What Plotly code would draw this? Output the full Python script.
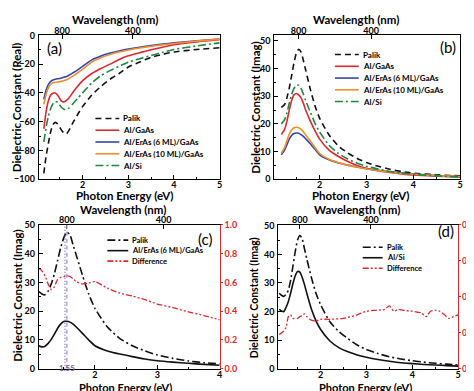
import plotly.graph_objects as go

W, H = 474, 391
FONT = "Lato"

# ---------------- Panel (a): real part ----------------
E_A = [1.15, 1.2, 1.25, 1.3, 1.35, 1.4, 1.45, 1.5, 1.55, 1.6, 1.65, 1.7, 1.8, 1.9,
       2.0, 2.2, 2.4, 2.6, 2.8, 3.0, 3.25, 3.5, 3.75, 4.0, 4.5, 5.0]
REAL_PALIK = [-96, -84, -75, -67, -62, -60.5, -61.5, -64, -66.5, -68, -68.3, -66, -60, -54.5,
              -49.5, -41.5, -35.5, -30.5, -26.5, -22, -18.5, -15.2, -13.2, -11.5, -9.8, -8.6]
REAL_GAAS = [-65, -53, -45.5, -41.5, -40.2, -40, -41.5, -44, -46, -46.2, -45, -43.5, -39, -35,
             -31.5, -26.5, -23, -20, -16.8, -14.2, -12, -10, -8.2, -6.5, -4.5, -3]
REAL_ERAS6 = [-44.5, -38, -34, -32, -31, -30.5, -30.2, -30, -29.5, -29, -28.6, -27.7, -25.8, -23.8,
              -21.5, -17, -14.3, -12.3, -10.8, -9.5, -8.2, -7.1, -6.1, -5.2, -3.7, -2.5]
REAL_ERAS10 = [-48, -41, -36.5, -34, -33, -32.6, -32.4, -32.2, -31.8, -31.3, -30.8, -30, -28, -25.8,
               -23.5, -18.5, -15.5, -13.3, -11.6, -10.2, -8.8, -7.6, -6.6, -5.6, -4.0, -2.8]
REAL_SI = [-74, -64, -56, -51, -47.5, -46, -46.5, -48.5, -50.5, -51.5, -51.5, -50.5, -47, -43.5,
           -40, -33, -28, -24.5, -21.5, -18.7, -16.2, -14, -11.8, -9.8, -7.3, -5.2]

# ---------------- Panel (b): imaginary part ----------------
E_B = [1.18, 1.25, 1.3, 1.35, 1.4, 1.45, 1.5, 1.55, 1.6, 1.65, 1.7, 1.8, 1.9, 2.0,
       2.2, 2.4, 2.6, 2.8, 3.0, 3.25, 3.5, 3.75, 4.0, 4.5, 5.0]
IMAG_PALIK = [26, 27, 29.5, 33, 37.5, 42, 45.5, 47, 46, 43, 39.5, 32.5, 26.5, 22,
              16, 12, 9.5, 7.5, 6, 4.7, 3.6, 2.8, 2.2, 1.6, 1.2]
IMAG_GAAS = [16.2, 18, 21, 25, 28.5, 30.5, 31, 30.5, 29.5, 27.5, 25, 21, 17.5, 14.5,
             10.5, 8.2, 6.4, 5, 4, 3.1, 2.4, 1.9, 1.5, 1.1, 0.8]
IMAG_ERAS6 = [8.8, 10.5, 12.5, 14.5, 15.8, 16.5, 16.7, 16.6, 16.1, 15.5, 14.6, 12.8, 10.8, 8.8,
              7, 5.9, 5.1, 4.4, 3.8, 3.2, 2.7, 2.3, 1.9, 1.3, 0.9]
IMAG_ERAS10 = [9.4, 11.5, 14, 16.3, 17.8, 18.6, 18.8, 18.6, 18, 17.2, 16, 13.8, 11.5, 9.3,
               7.2, 6, 5.1, 4.4, 3.7, 3.1, 2.6, 2.1, 1.8, 1.3, 1.0]
IMAG_SI = [20, 21.5, 24, 27.5, 30.5, 32.8, 34, 34, 32.8, 30.8, 28.5, 24.2, 20.2, 17,
           12.3, 9.3, 7.3, 5.8, 4.7, 3.7, 2.8, 2.2, 1.8, 1.2, 0.8]

# ---------------- Panel (c): Palik vs Al/ErAs (6 ML)/GaAs ----------------
E_C = [1.1, 1.15, 1.2, 1.25, 1.3, 1.35, 1.4, 1.45, 1.5, 1.55, 1.6, 1.65, 1.7, 1.8, 1.9,
       2.0, 2.2, 2.4, 2.6, 2.8, 3.0, 3.25, 3.5, 3.75, 4.0]
C_PALIK = [26.8, 26, 25.7, 27, 29.5, 33, 37.5, 42, 45.5, 47.5, 46.5, 43, 39.5, 32.5, 26,
           21, 14.5, 10.5, 8, 6.2, 4.8, 3.6, 2.7, 2.1, 1.7]
C_ERAS6 = [8.0, 7.6, 7.8, 8.8, 10.2, 12, 14, 15.5, 16.4, 16.5, 16.2, 15.5, 14.5, 12.3, 10,
           8, 6.2, 5.1, 4.2, 3.4, 2.8, 2.3, 1.9, 1.5, 1.2]
C_DIFF = [0.70, 0.68, 0.645, 0.59, 0.55, 0.57, 0.62, 0.635, 0.64, 0.647, 0.64, 0.625, 0.605, 0.59, 0.595,
          0.605, 0.56, 0.525, 0.505, 0.48, 0.45, 0.425, 0.395, 0.37, 0.34]
MARK_E = 1.55
MARK_E_SAMPLE = 1.52

# ---------------- Panel (d): Palik vs Al/Si ----------------
E_D = [1.1, 1.15, 1.2, 1.25, 1.3, 1.35, 1.4, 1.45, 1.5, 1.55, 1.6, 1.65, 1.7, 1.8, 1.9,
       2.0, 2.2, 2.4, 2.6, 2.8, 3.0, 3.25, 3.5, 3.75, 4.0, 4.25, 4.5, 4.75, 5.0]
D_PALIK = [26.4, 25.7, 25.3, 26, 27.5, 31, 36, 41, 45, 46.6, 45.5, 42, 38.5, 32, 26.5,
           22.5, 16.5, 13, 10.5, 8.3, 6.7, 5.3, 4.2, 3.4, 2.8, 2.3, 1.9, 1.6, 1.3]
D_SI = [20.8, 20.2, 20, 21.5, 23.5, 26.5, 29.8, 32.5, 34, 33.8, 32, 29.5, 26.5, 21, 16.8,
        13.8, 9.8, 7.4, 5.9, 4.8, 4.0, 3.2, 2.6, 2.1, 1.8, 1.5, 1.3, 1.1, 0.9]
E_D_DIFF = [1.1, 1.2, 1.25, 1.3, 1.35, 1.4, 1.5, 1.55, 1.6, 1.65, 1.7, 1.8, 1.9, 2.0, 2.2,
            2.5, 2.8, 3.0, 3.2, 3.4, 3.5, 3.6, 3.7, 3.8, 4.0, 4.2, 4.3, 4.4, 4.5, 4.6,
            4.7, 4.8, 4.9, 5.0]
D_DIFF = [0.19, 0.21, 0.23, 0.29, 0.30, 0.28, 0.28, 0.29, 0.295, 0.305, 0.29, 0.27, 0.265, 0.275, 0.275,
          0.28, 0.30, 0.32, 0.325, 0.33, 0.35, 0.32, 0.33, 0.325, 0.32, 0.31, 0.29, 0.32, 0.325, 0.32,
          0.30, 0.28, 0.29, 0.30]

WAVELENGTH_TICKS = [800, 400]
HC = 1240.0  # eV*nm

RED = "#e3262d"
BLUE = "#3347a8"
ORANGE = "#f28e2b"
GREEN = "#1c8a3f"
BLACK = "#111111"
PURPLE = "#7b5ea7"
LAVENDER = "#a596d6"

DASH = "6px,4px"
DASHDOT = "8px,3px,2px,3px"
DASHDOTDOT = "6px,2px,2px,2px,2px,2px"


def px(x):
    return x / W


def py(y):
    return 1 - y / H


fig = go.Figure()


def line(x, y, xa, ya, color, dash="solid", width=1.6):
    fig.add_trace(go.Scatter(x=x, y=y, xaxis=xa, yaxis=ya, mode="lines",
                             line=dict(color=color, dash=dash, width=width, shape="spline",
                                       smoothing=0.6),
                             showlegend=False, hoverinfo="skip"))


# (a)
line(E_A, REAL_PALIK, "x", "y", BLACK, DASH)
line(E_A, REAL_GAAS, "x", "y", RED)
line(E_A, REAL_ERAS6, "x", "y", BLUE)
line(E_A, REAL_ERAS10, "x", "y", ORANGE)
line(E_A, REAL_SI, "x", "y", GREEN, DASHDOT)
# (b)
line(E_B, IMAG_PALIK, "x2", "y2", BLACK, DASH)
line(E_B, IMAG_GAAS, "x2", "y2", RED)
line(E_B, IMAG_ERAS6, "x2", "y2", BLUE)
line(E_B, IMAG_ERAS10, "x2", "y2", ORANGE)
line(E_B, IMAG_SI, "x2", "y2", GREEN, DASHDOT)
# (c)
line(E_C, C_PALIK, "x3", "y3", BLACK, DASHDOT)
line(E_C, C_ERAS6, "x3", "y3", BLACK)
line(E_C, C_DIFF, "x3", "y5", RED, DASHDOTDOT, 1.3)
# (d)
line(E_D, D_PALIK, "x4", "y4", BLACK, DASHDOT)
line(E_D, D_SI, "x4", "y4", BLACK)
line(E_D_DIFF, D_DIFF, "x4", "y6", RED, DASHDOTDOT, 1.3)

# transparent companions so that the top wavelength axes are drawn
CLEAR = "rgba(0,0,0,0)"
line(E_A, REAL_PALIK, "x5", "y", CLEAR)
line(E_B, IMAG_PALIK, "x6", "y2", CLEAR)
line(E_C, C_PALIK, "x7", "y3", CLEAR)
line(E_D, D_PALIK, "x8", "y4", CLEAR)

TICKFONT = dict(family=FONT, size=9, color="black", weight="bold")
RTICKFONT = dict(family=FONT, size=9, color=RED, weight="bold")

dom_x = {1: [px(31), px(213)], 2: [px(268), px(455)], 3: [px(31), px(213)], 4: [px(272), px(453)]}
dom_y = {1: [py(170), py(22)], 2: [py(170), py(22)], 3: [py(365), py(217)], 4: [py(365), py(217)]}
xr = {1: [1.04, 5], 2: [1.03, 5], 3: [1.1, 4], 4: [1.08, 5]}
yr = {1: [-100, 0], 2: [0, 52], 3: [0, 50], 4: [0, 50.3]}
ydt = {1: 20, 2: 10, 3: 10, 4: 10}

axcommon = dict(showgrid=False, zeroline=False, showline=True, linecolor="black", linewidth=1.2,
                ticks="inside", ticklen=4, tickcolor="black", tickfont=TICKFONT)

lay = {}
for i in range(1, 5):
    s = "" if i == 1 else str(i)
    lay["xaxis" + s] = dict(axcommon, domain=dom_x[i], anchor="y" + s, range=xr[i], dtick=1, tick0=0,
                            minor=dict(ticks="inside", ticklen=2, dtick=0.5, tickcolor="black"),
                            mirror=False, ticklabelstandoff=-3)
    lay["yaxis" + s] = dict(axcommon, domain=dom_y[i], anchor="x" + s, range=yr[i], dtick=ydt[i],
                            minor=dict(ticks="inside", ticklen=2, dtick=ydt[i] / 2, tickcolor="black"),
                            mirror=(i <= 2), ticklabelstandoff=1)
    # top wavelength axis
    lay["xaxis" + str(i + 4)] = dict(axcommon, overlaying="x" + s, side="top", anchor="y" + s,
                                     range=xr[i],
                                     tickvals=[HC / w for w in WAVELENGTH_TICKS],
                                     ticktext=[str(w) for w in WAVELENGTH_TICKS],
                                     ticklabelstandoff=-3)

lay["yaxis5"] = dict(showgrid=False, zeroline=False, showline=True, linecolor=RED, linewidth=1.2,
                     overlaying="y3", side="right", anchor="x3", range=[0, 1.0], dtick=0.2,
                     ticks="outside", ticklen=2, tickcolor=RED, tickfont=RTICKFONT, tickformat=".1f",
                     ticklabelstandoff=0)
lay["yaxis6"] = dict(showgrid=False, zeroline=False, showline=True, linecolor=RED, linewidth=1.2,
                     overlaying="y4", side="right", anchor="x4", range=[0, 0.8], dtick=0.2,
                     ticks="outside", ticklen=2, tickcolor=RED,
                     tickfont=dict(RTICKFONT, size=8.5), tickformat=".1f",
                     ticklabelstandoff=-1)

fig.update_layout(**lay)

annotations = []
shapes = []


def text(x, y, s, size=12, bold=True, color="black", angle=0, xanchor="center"):
    annotations.append(dict(x=px(x), y=py(y), xref="paper", yref="paper", text=s, showarrow=False,
                            xanchor=xanchor, yanchor="middle", textangle=angle,
                            font=dict(family=FONT, size=size, color=color,
                                      weight="bold" if bold else "normal")))


# axis titles
TS = 11.5
text(8, 96, "Dielectric Constant (Real)", TS, angle=-90)
text(118, 187, "Photon Energy (eV)", TS)
text(108, 5.5, "Wavelength (nm)", TS)
text(249, 96, "Dielectric Constant (Imag)", TS, angle=-90)
text(355, 187, "Photon Energy (eV)", TS)
text(350, 5.5, "Wavelength (nm)", TS)
text(10, 290, "Dielectric Constant (Imag)", TS, angle=-90)
text(118, 384, "Photon Energy (eV)", 11)
text(116, 201, "Wavelength (nm)", TS)
text(247, 292, "Dielectric Constant (Imag)", TS - 1, angle=-90)
text(360, 384, "Photon Energy (eV)", 11)
text(351, 201, "Wavelength (nm)", TS)

# panel letters
text(47, 35, "(a)", 15, bold=False)
text(443, 34, "(b)", 15, bold=False)
text(198, 231, "(c)", 15, bold=False)
text(441, 223, "(d)", 15, bold=False)


def legend(items, x0, x1, y0, dy, size):
    for k, (label, color, dash) in enumerate(items):
        y = y0 + k * dy
        shapes.append(dict(type="line", xref="paper", yref="paper", x0=px(x0), x1=px(x1),
                           y0=py(y), y1=py(y), line=dict(color=color, width=1.6, dash=dash)))
        text(x1 + 2, y, label, size, xanchor="left")


LEG5 = [("Palik", BLACK, DASH), ("Al/GaAs", RED, "solid"), ("Al/ErAs (6 ML)/GaAs", BLUE, "solid"),
        ("Al/ErAs (10 ML)/GaAs", ORANGE, "solid"), ("Al/Si", GREEN, DASHDOT)]
legend(LEG5, 88, 112, 107.5, 12.1, 8)
legend(LEG5, 329, 353, 41.7, 12.1, 8)
legend([("Palik", BLACK, DASHDOT), ("Al/ErAs (6 ML)/GaAs", BLACK, "solid"),
        ("Difference", RED, DASHDOTDOT)], 100, 121, 232.7, 10.8, 7.5)
legend([("Palik", BLACK, DASHDOT), ("Al/Si", BLACK, "solid"),
        ("Difference", RED, DASHDOTDOT)], 357, 377, 240, 10.8, 7.5)

# marker lines at 1.55 eV in (c)
shapes.append(dict(type="line", xref="x3", yref="y3", x0=MARK_E, x1=MARK_E, y0=0, y1=50,
                   line=dict(color=LAVENDER, width=1.3, dash="4px,3px")))
shapes.append(dict(type="line", xref="x3", yref="y3", x0=MARK_E_SAMPLE, x1=MARK_E_SAMPLE, y0=0, y1=50,
                   line=dict(color=PURPLE, width=1.2, dash="1px,2px")))
annotations.append(dict(x=MARK_E, y=py(371), xref="x3", yref="paper", text="1.55", showarrow=False,
                        font=dict(family=FONT, size=8, color=PURPLE, weight="bold")))

fig.update_layout(width=W, height=H, margin=dict(l=0, r=0, t=0, b=0), showlegend=False,
                  plot_bgcolor="white", paper_bgcolor="white",
                  annotations=annotations, shapes=shapes,
                  font=dict(family=FONT))

fig.write_html("out.html")
